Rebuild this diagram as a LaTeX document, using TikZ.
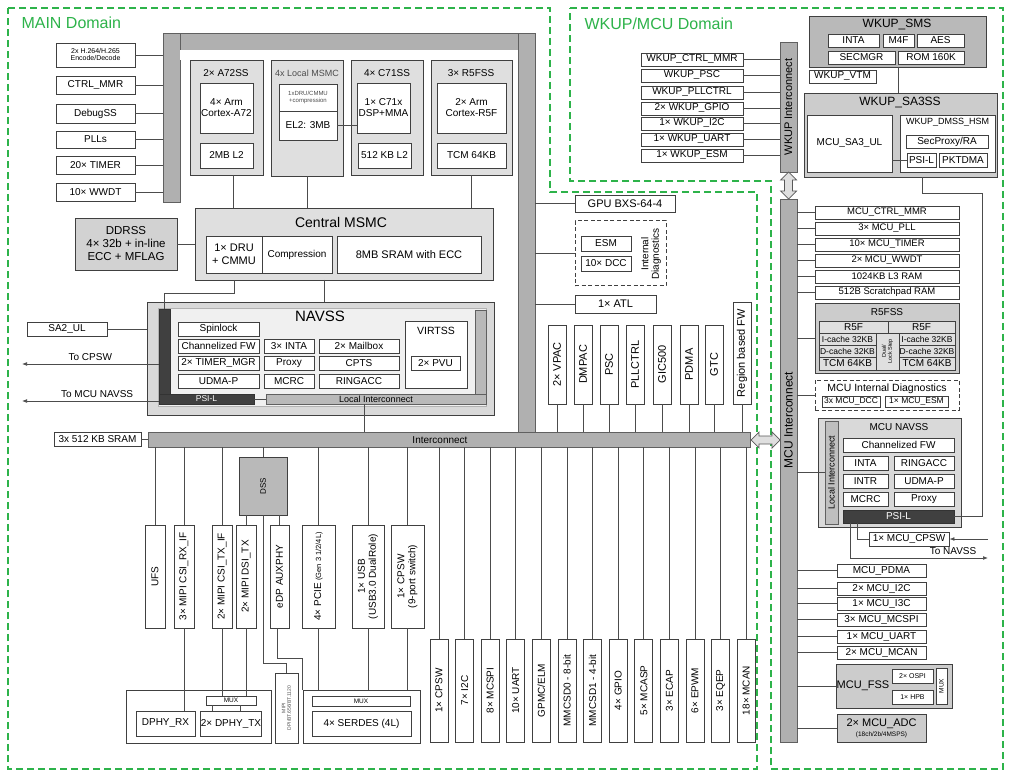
\documentclass[tikz,border=0pt]{standalone}
\usepackage{fontspec}
\setmainfont{Liberation Sans}
\usetikzlibrary{arrows.meta}
\newcommand\fsz[2]{\fontsize{#1}{#2}\selectfont}
% [opt]{name}{x1}{y1}{x2}{y2}{text}
\newcommand\bx[7][]{\node[box,minimum width={#5-#3},minimum height={#6-#4},#1] (#2) at ({(#3+#5)/2},{(#4+#6)/2}) {#7};}
\newcommand\vbx[7][]{\node[box,rotate=90,minimum width={#6-#4},minimum height={#5-#3},#1] (#2) at ({(#3+#5)/2},{(#4+#6)/2}) {#7};}
\definecolor{grn}{HTML}{2DB34A}
\begin{document}
\begin{tikzpicture}[x=1pt,y=-1pt,
  box/.style={draw=black!75,fill=white,line width=0.8pt,inner sep=0pt,align=center,font=\fsz{10}{11}},
  sub/.style={fill=gray!25},
  bar/.style={fill=gray!62,draw=gray!75!black,line width=0.6pt},
  dk/.style={fill=black!75,text=white},
  ln/.style={draw=black!70,line width=0.7pt},
  dom/.style={draw=grn,line width=1.1pt,dash pattern=on 7pt off 4pt},
  dsh/.style={dash pattern=on 4pt off 2.5pt,line width=1pt},
  dar/.style={draw=gray!70!black,fill=gray!25,line width=0.7pt}]
\useasboundingbox[fill=white] (0,0) rectangle (1017,775);
% domains
\draw[dom] (8,8) -- (550,8) -- (550,192) -- (757,192) -- (757,769) -- (8,769) -- cycle;
\draw[dom] (570,8) -- (1003,8) -- (1003,769) -- (771,769) -- (771,181) -- (570,181) -- cycle;
\node[text=grn,font=\fsz{16}{18},anchor=west] (tmain) at (18,23) {MAIN Domain};
\node[text=grn,font=\fsz{16}{18},anchor=west] (twk) at (581,24) {WKUP/MCU Domain};
% frame and interconnect
\bx[bar]{frT}{163}{33}{535}{50}{}
\bx[bar]{frL}{163}{33}{180}{202}{}
\bx[bar]{frR}{518}{33}{535}{440}{}
\fill[white] (180.4,50.4) rectangle (517.6,60);
\bx[bar]{ic}{148}{432}{750}{447}{}
\node[font=\fsz{10}{10}] (ict) at (440,440) {Interconnect};
% left peripherals
\bx[font=\fsz{7}{7}]{h264}{56}{43}{135}{67}{2x H.264/H.265\\Encode/Decode}
\bx{ctrl}{56}{76}{135}{94}{CTRL\_MMR}
\bx{dbg}{56}{104}{135}{123}{DebugSS}
\bx{plls}{56}{131}{135}{148}{PLLs}
\bx{tmr}{56}{156}{135}{174}{20× TIMER}
\bx{wwdt}{56}{183}{135}{201}{10× WWDT}
\foreach \n in {h264,ctrl,dbg,plls,tmr,wwdt}{\draw[ln] (\n.east) -- (\n.east -| frL.west);}
% subsystems
\bx[sub]{a72}{190}{60}{263}{175}{}
\node[font=\fsz{10}{10}] (a72t) at (226,73) {2× A72SS};
\bx{a72c}{200}{83}{253}{133}{4× Arm\\Cortex-A72}
\bx{a72l}{200}{143}{253}{168}{2MB L2}
\bx[sub]{lms}{271}{60}{343}{176}{}
\node[font=\fsz{9}{9},text=black!70] (lmst) at (307,73) {4x Local MSMC};
\bx[font=\fsz{6}{7},text=black!70]{dru1}{279}{84}{337}{111}{1xDRU/CMMU\\+compression}
\bx{el2}{279}{111}{337}{140}{EL2: 3MB}
\bx[sub]{c71}{351}{60}{423}{175}{}
\node[font=\fsz{10}{10}] (c71t) at (387,73) {4× C71SS};
\bx{c71c}{357}{83}{410}{133}{1× C71x\\DSP+MMA}
\bx{c71l}{358}{143}{411}{168}{512 KB L2}
\bx[sub]{r5}{431}{60}{512}{175}{}
\node[font=\fsz{10}{10}] (r5t) at (471,73) {3× R5FSS};
\bx{r5c}{437}{83}{506}{133}{2× Arm\\Cortex-R5F}
\bx{r5l}{437}{143}{506}{168}{TCM 64KB}
\draw[ln] (el2.east) -- (el2.east -| c71c.west);
% central MSMC
\bx[sub]{msmc}{195}{208}{493}{280}{}
\node[font=\fsz{14}{14}] (msmct) at (341,222) {Central MSMC};
\bx[font=\fsz{11}{12.5}]{dru}{206}{236}{262}{273}{1× DRU\\+ CMMU}
\bx{comp}{262}{236}{332}{273}{Compression}
\bx[font=\fsz{11}{12}]{sram}{337}{236}{481}{273}{8MB SRAM with ECC}
\draw[ln] (233,175) -- (233,208);
\draw[ln] (lms.south) -- (lms.south |- msmc.north);
\draw[ln] (r5.south) -- (r5.south |- msmc.north);
\bx[fill=gray!35,font=\fsz{11.5}{13}]{ddr}{75}{218}{177}{270}{DDRSS\\4× 32b + in-line\\ECC + MFLAG}
\draw[ln] (ddr.east) -- (ddr.east -| msmc.west);
% NAVSS
\bx[fill=gray!30]{navss}{147}{302}{494}{415}{}
\bx[fill=gray!12,draw=gray!60]{navin}{158}{308}{486}{406}{}
\node[font=\fsz{15}{15}] (navt) at (320,316) {NAVSS};
\bx[dk,draw=black!80]{psiv}{159}{309}{170}{404}{}
\bx[dk,draw=black!80,font=\fsz{8.5}{8}]{psih}{159}{394}{254}{404}{PSI-L}
\bx[bar,fill=gray!55]{licv}{475}{310}{486}{404}{}
\bx[bar,fill=gray!55,font=\fsz{9}{8}]{lic}{266}{394}{486}{404}{Local Interconnect}
\draw[ln] (psih.east) -- (lic.west);
\bx{spin}{178}{322}{259}{336}{Spinlock}
\bx{chfw}{178}{339}{259}{353}{Channelized FW}
\bx{tmgr}{178}{356}{259}{370}{2× TIMER\_MGR}
\bx{udma}{178}{374}{259}{388}{UDMA-P}
\bx{inta}{264}{339}{314}{353}{3× INTA}
\bx{proxy}{264}{356}{314}{370}{Proxy}
\bx{mcrc}{264}{374}{314}{388}{MCRC}
\bx{mbox}{319}{339}{399}{353}{2× Mailbox}
\bx{cpts}{319}{356}{399}{370}{CPTS}
\bx{ring}{319}{374}{399}{388}{RINGACC}
\bx{virt}{405}{321}{467}{388}{}
\node[font=\fsz{10.5}{10}] (virtt) at (436,331) {VIRTSS};
\bx{pvu}{411}{356}{460}{370}{2× PVU}
\draw[ln] (dru.south |- msmc.south) -- ++(0,13) -| (psiv.north);
\coordinate (m1) at (324,280);
\draw[ln] (m1) -- (m1 |- navss.north);
\coordinate (l1) at (364,404);
\draw[ln] (l1) -- (l1 |- ic.north);
\bx{sa2}{27}{322}{107}{336}{SA2\_UL}
\draw[ln] (sa2.east) -- (sa2.east -| navss.west);
\coordinate (cp) at (22,364);
\coordinate (mn) at (22,401);
\draw[ln,-{Latex[length=5pt]}] (psiv.west |- cp) -- (cp) node[pos=0.5,above,font=\fsz{10}{10},black] (tcp) {To CPSW};
\draw[ln,-{Latex[length=5pt]}] (psiv.west |- mn) -- (mn) node[pos=0.45,above,font=\fsz{10}{10},black] (tmn) {To MCU NAVSS};
% right of frame
\bx[font=\fsz{11}{11}]{gpu}{575}{195}{675}{212}{GPU BXS-64-4}
\bx[dsh]{diag}{575}{221}{666}{286}{}
\bx{esm}{581}{236}{631}{251}{ESM}
\bx{dcc}{581}{256}{631}{271}{10× DCC}
\node[rotate=90,align=center,font=\fsz{10}{10.5}] (diagt) at (651,254) {Internal\\Diagnostics};
\bx[font=\fsz{11}{11}]{atl}{575}{295}{656}{313}{1× ATL}
\foreach \n in {gpu,diag,atl}{\draw[ln] (\n.west -| frR.east) -- (\n.west);}
% vertical peripherals near frame
\foreach \n/\xa/\t/\ya in {vpac/548/2× VPAC/325,dmpac/574/DMPAC/325,psc/600/PSC/325,pll/626/PLLCTRL/325,gic/653/GIC500/325,pdma/680/PDMA/325,gtc/705/GTC/325,rfw/733/Region based FW/302}{
  \vbx[font=\fsz{11}{11}]{\n}{\xa}{\ya}{\xa+18}{404}{\t}
  \draw[ln] (\n.west) -- (\n.west |- ic.north);}
% bottom-left peripherals
\bx{sram3}{54}{432}{141}{446}{3x 512 KB SRAM}
\draw[ln] (sram3.east) -- (sram3.east -| ic.west);
\vbx[fill=gray!55,font=\fsz{8}{8}]{dss}{239}{457}{287}{515}{DSS}
\draw[ln] (dss.east) -- (dss.east |- ic.south);
\vbx{ufs}{145}{525}{165}{628}{UFS}
\vbx{rxif}{174}{525}{194}{628}{3× MIPI CSI\_RX\_IF}
\vbx{txif}{212}{525}{232}{628}{2× MIPI CSI\_TX\_IF}
\vbx{dsitx}{236}{525}{256}{628}{2× MIPI DSI\_TX}
\vbx{edp}{270}{525}{289}{628}{eDP AUXPHY}
\vbx{pcie}{302}{525}{335}{628}{4× PCIE {\fsz{7.5}{8}(Gen 3 1/2/4L)}}
\vbx{usb}{352}{525}{384}{628}{1× USB\\(USB3.0 DualRole)}
\vbx{cpsw9}{391}{525}{424}{628}{1× CPSW\\(9-port switch)}
\foreach \n in {ufs,rxif,txif,pcie,usb,cpsw9}{\draw[ln] (\n.east) -- (\n.east |- ic.south);}
\draw[ln] (dsitx.east) -- (dsitx.east |- dss.west);
\draw[ln] (edp.east) -- (edp.east |- dss.west);
\bx{lbox}{126}{690}{271}{743}{}
\bx[font=\fsz{6.5}{7}]{mux1}{206}{696}{256}{705}{MUX}
\bx{dphyrx}{136}{711}{195}{736}{DPHY\_RX}
\bx{dphytx}{202}{711}{260}{736}{2× DPHY\_TX}
\bx{rbox}{303}{690}{420}{743}{}
\bx[font=\fsz{6.5}{7}]{mux2}{312}{696}{410}{706}{MUX}
\bx{serdes}{312}{711}{411}{736}{4× SERDES (4L)}
\vbx[font=\fsz{5}{5.5},text=black!70]{mipi}{275}{673}{298}{743}{MIPI\\DPI/BT.656/BT.1120}
\draw[ln] (rxif.west) -- (rxif.west |- dphyrx.north);
\draw[ln] (txif.west) -- (txif.west |- mux1.north);
\draw[ln] (dsitx.west) -- (dsitx.west |- mux1.north);
\draw[ln] (212,705) -- (212,711);
\draw[ln] (240,705) -- (240,711);
\draw[ln] (dss.west) -- (263,663) -| (mipi.east);
\draw[ln] (277,628) -- (277,658) -| (rbox.north west);
\foreach \n in {pcie,usb,cpsw9}{\draw[ln] (\n.west) -- (\n.west |- rbox.north);}
% bottom row
\foreach \t [count=\i from 0] in {1× CPSW,7× I2C,8× MCSPI,10× UART,GPMC/ELM,MMCSD0 - 8-bit,MMCSD1 - 4-bit,4× GPIO,5× MCASP,3× ECAP,6× EPWM,3× EQEP,18× MCAN}{
  \pgfmathsetmacro\xa{430+25.6*\i}
  \vbx{bp\i}{\xa}{639}{\xa+18}{742}{\t}
  \draw[ln] (bp\i.east) -- (bp\i.east |- ic.south);}
% WKUP
\bx[bar]{wic}{780}{42}{797}{172}{}
\node[rotate=90,font=\fsz{11}{11}] (wict) at (788.5,107) {WKUP Interconnect};
\foreach \n/\ya/\t in {wc/53/WKUP\_CTRL\_MMR,wp/69/WKUP\_PSC,wpl/86/WKUP\_PLLCTRL,wg/102/2× WKUP\_GPIO,wi/117/1× WKUP\_I2C,wu/133/1× WKUP\_UART,we/149/1× WKUP\_ESM}{
  \bx{\n}{641}{\ya}{743}{\ya+13}{\t}
  \draw[ln] (\n.east) -- (\n.east -| wic.west);}
\bx[fill=gray!55]{sms}{809}{16}{986}{67}{}
\node[font=\fsz{12}{12}] (smst) at (897,25) {WKUP\_SMS};
\bx{sinta}{828}{34}{879}{47}{INTA}
\bx{sm4f}{883}{34}{914}{47}{M4F}
\bx{saes}{917}{34}{964}{47}{AES}
\bx{ssec}{828}{51}{895}{64}{SECMGR}
\bx{srom}{898}{51}{964}{64}{ROM 160K}
\bx{vtm}{809}{70}{876}{83}{WKUP\_VTM}
\bx[fill=gray!40]{sa3}{804}{93}{997}{177}{}
\node[font=\fsz{12}{12}] (sa3t) at (900,103) {WKUP\_SA3SS};
\draw[ln] (898,67) -- (898,93);
\bx{sa3ul}{807}{115}{892}{172}{MCU\_SA3\_UL}
\bx{hsm}{900}{115}{995}{172}{}
\node[font=\fsz{9}{9}] (hsmt) at (947.5,122) {WKUP\_DMSS\_HSM};
\bx{secp}{906}{135}{988}{148}{SecProxy/RA}
\bx{wpsil}{907}{153}{936}{167}{PSI-L}
\bx{pkt}{939}{153}{987}{167}{PKTDMA}
\draw[ln] (sa3ul.east |- wpsil.west) -- (wpsil.west);
\filldraw[dar] (788.5,172) -- (780.5,180) -- (784.5,180) -- (784.5,191) -- (780.5,191) -- (788.5,199) -- (796.5,191) -- (792.5,191) -- (792.5,180) -- (796.5,180) -- cycle;
\filldraw[dar] (751,440) -- (759,432) -- (759,436) -- (772,436) -- (772,432) -- (780,440) -- (772,448) -- (772,444) -- (759,444) -- (759,448) -- cycle;
% MCU
\bx[bar]{mic}{780}{199}{797}{742}{}
\node[rotate=90,font=\fsz{12}{12}] (mict) at (788.5,420) {MCU Interconnect};
\foreach \n/\ya/\t in {mc/206/MCU\_CTRL\_MMR,mpll/222/3× MCU\_PLL,mt/238/10× MCU\_TIMER,mw/254/2× MCU\_WWDT,ml3/270/1024KB L3 RAM,msc/286/512B Scratchpad RAM}{
  \bx[font=\fsz{9.5}{10}]{\n}{815}{\ya}{959}{\ya+13}{\t}
  \draw[ln] (\n.west -| mic.east) -- (\n.west);}
\bx[fill=gray!40]{mr5}{815}{303}{959}{373}{}
\node[font=\fsz{10}{10}] (mr5t) at (887,312) {R5FSS};
\bx[sub]{r5a}{819}{321}{888}{333}{R5F}
\bx[sub]{r5b}{888}{321}{955}{333}{R5F}
\bx[sub,font=\fsz{8.5}{8}]{ica}{819}{333}{876}{345}{I-cache 32KB}
\bx[sub,font=\fsz{8.5}{8}]{dca}{819}{345}{876}{357}{D-cache 32KB}
\bx[sub]{tca}{819}{357}{876}{370}{TCM 64KB}
\bx[sub]{dual}{876}{333}{899}{370}{}
\node[rotate=90,font=\fsz{5.5}{6},align=center] (dualt) at (887.5,351.5) {Dual/\\Lock Step};
\bx[sub,font=\fsz{8.5}{8}]{icb}{899}{333}{955}{345}{I-cache 32KB}
\bx[sub,font=\fsz{8.5}{8}]{dcb}{899}{345}{955}{357}{D-cache 32KB}
\bx[sub]{tcb}{899}{357}{955}{370}{TCM 64KB}
\draw[ln] (mr5.west -| mic.east) -- (mr5.west);
\bx[dsh]{mdiag}{815}{380}{959}{410}{}
\node[font=\fsz{10.5}{10}] (mdiagt) at (887,389) {MCU Internal Diagnostics};
\bx[font=\fsz{8.5}{8}]{mdcc}{822}{396}{880}{407}{3x MCU\_DCC}
\bx[font=\fsz{8.5}{8}]{mesm}{885}{396}{948}{407}{1× MCU\_ESM}
\draw[ln] (mdiag.west -| mic.east) -- (mdiag.west);
\bx[fill=gray!30]{mnav}{818}{418}{961}{527}{}
\node[font=\fsz{10}{10}] (mnavt) at (899,427) {MCU NAVSS};
\bx[bar,fill=gray!50]{mlic}{825}{421}{838}{524}{}
\node[rotate=90,font=\fsz{9}{9}] (mlict) at (831.5,472.5) {Local Interconnect};
\bx{mchfw}{843}{438}{954}{452}{Channelized FW}
\bx{minta}{843}{456}{888}{470}{INTA}
\bx{mring}{894}{456}{954}{470}{RINGACC}
\bx{mintr}{843}{474}{888}{488}{INTR}
\bx{mudma}{894}{474}{954}{488}{UDMA-P}
\bx{mmcrc}{843}{492}{888}{506}{MCRC}
\bx{mprox}{894}{492}{954}{506}{Proxy}
\bx[dk,draw=black!80]{mpsil}{843}{510}{954}{523}{PSI-L}
\draw[ln] (mlic.west -| mic.east) -- (mlic.west);
\draw[ln] (mpsil.east) -| (982,193) -| (922,177);
\bx{mcpsw}{869}{532}{949}{546}{1× MCU\_CPSW}
\coordinate (ce) at (988,539);
\coordinate (ne) at (988,558);
\draw[ln] (857,523) |- (mcpsw.west);
\draw[ln,-{Latex[length=5pt]}] (ce) -- (ce -| mcpsw.east);
\draw[ln,-{Latex[length=5pt]}] (850,523) |- (ne);
\node[font=\fsz{10}{10}] (tnav) at (953,551) {To NAVSS};
\foreach \n/\ya/\t in {mpdma/564/MCU\_PDMA,mi2c/582/2× MCU\_I2C,mi3c/597/1× MCU\_I3C,mspi/613/3× MCU\_MCSPI,muart/630/1× MCU\_UART,mcan/646/2× MCU\_MCAN}{
  \bx{\n}{837}{\ya}{926}{\ya+13}{\t}
  \draw[ln] (\n.west -| mic.east) -- (\n.west);}
\bx[fill=gray!40]{fss}{836}{664}{952}{708}{}
\node[font=\fsz{11}{11}] (fsst) at (863,686) {MCU\_FSS};
\bx[font=\fsz{7}{7}]{ospi}{892}{669}{933}{683}{2× OSPI}
\bx[font=\fsz{7}{7}]{hpb}{892}{690}{933}{704}{1× HPB}
\bx{fmux}{936}{668}{947}{704}{}
\node[rotate=90,font=\fsz{6.5}{7}] (fmuxt) at (941.5,686) {MUX};
\draw[ln] (fss.west -| mic.east) -- (fss.west);
\bx[fill=gray!40,font=\fsz{11}{8}]{adc}{837}{714}{926}{742}{2× MCU\_ADC\\[2pt]{\fsz{6.5}{7}(18ch/2b/4MSPS)}}
\draw[ln] (adc.west -| mic.east) -- (adc.west);
\end{tikzpicture}
\end{document}
